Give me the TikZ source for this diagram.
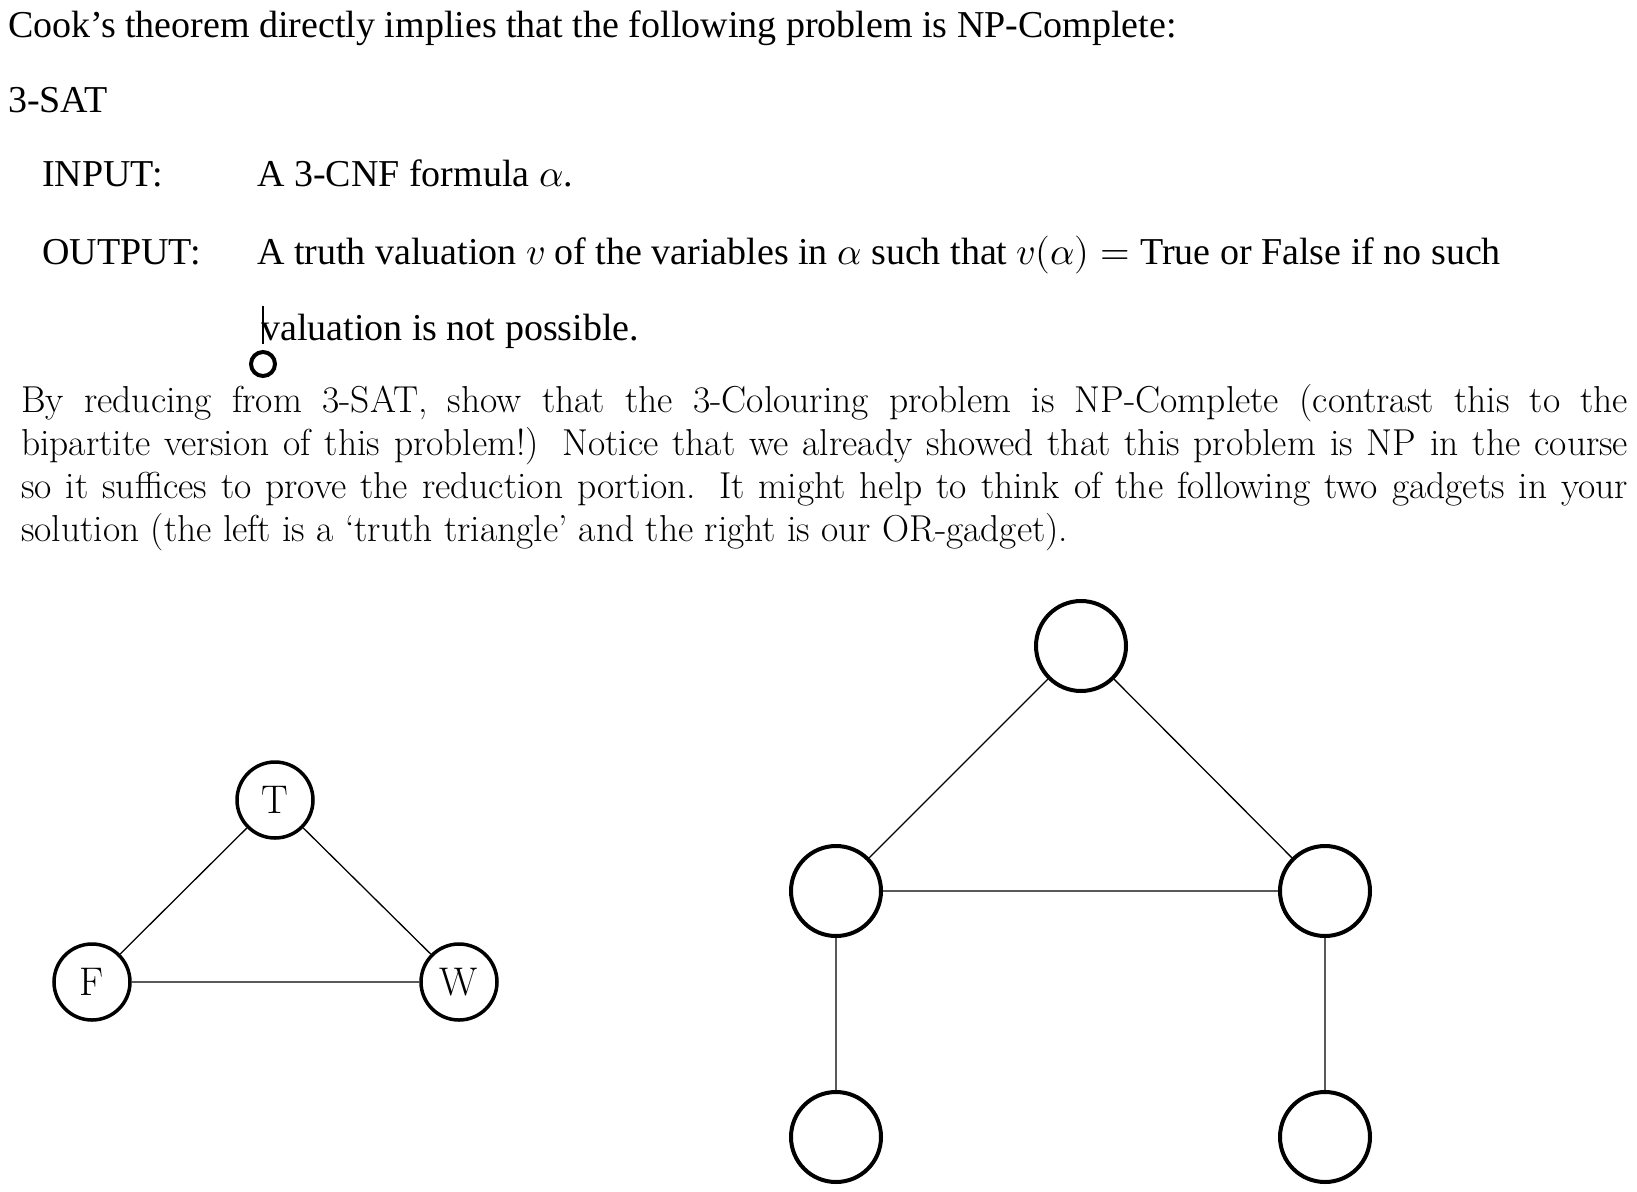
\documentclass[tikz,border=0pt]{standalone}
\usepackage{fontspec}
\newfontfamily\tms{Liberation Serif}
\usepackage{unicode-math}
\setmathfont{Latin Modern Math}
\begin{document}
\begin{tikzpicture}[x=1pt,y=-1pt,
  big/.style={circle,draw,line width=4pt,minimum size=90pt,inner sep=0pt},
  tv/.style={circle,draw,line width=3.5pt,minimum size=76pt,inner sep=0pt,font=\fontsize{40}{40}\selectfont},
  edge/.style={line width=1.3pt},
  tx/.style={anchor=base west,inner sep=0pt,font=\tms\fontsize{38}{44}\selectfont}]
\useasboundingbox (0,0) rectangle (1637,1191);
\node[tx] (l1) at (8,37) {Cook’s theorem directly implies that the following problem is NP-Complete:};
\node[tx] (l2) at (8,112) {3-SAT};
\node[tx] (in) at (42,186) {INPUT:};
\node[tx] (inv) at (257,186) {A 3-CNF formula $\alpha$.};
\node[tx] (out) at (42,264) {OUTPUT:};
\node[tx] (outv) at (257,264) {A truth valuation $v$ of the variables in $\alpha$ such that $v(\alpha) = \text{True}$ or False if no such};
\node[tx] (outv2) at (261,340) {valuation is not possible.};
\draw[line width=1.2pt] (263,306) -- (263,344);
\node[circle,draw,line width=4pt,minimum size=24pt,inner sep=0pt] (cur) at (263,364) {};
\node[anchor=north west,inner sep=0pt,text width=1607pt,font=\fontsize{37.5}{43}\selectfont,align=justify] (para) at (21,384)
{\hbadness=10000 By reducing from 3-SAT, show that the 3-Colouring problem is NP-Complete (contrast this to the\linebreak bipartite version of this problem!) Notice that we already showed that this problem is NP in the course\linebreak so it suffices to prove the reduction portion. It might help to think of the following two gadgets in your\linebreak solution (the left is a ‘truth triangle’ and the right is our OR-gadget).};
\node[tv] (T) at (275,800) {T};
\node[tv] (F) at (92,982) {F};
\node[tv] (W) at (459,982) {W};
\draw[edge] (T) -- (F) (T) -- (W) (F) -- (W);
\node[big] (top) at (1081,646) {};
\node[big] (L) at (836,891) {};
\node[big] (R) at (1325,891) {};
\node[big] (BL) at (836,1137) {};
\node[big] (BR) at (1325,1137) {};
\draw[edge] (top) -- (L) (top) -- (R) (L) -- (R) (L) -- (BL) (R) -- (BR);
\end{tikzpicture}
\end{document}
